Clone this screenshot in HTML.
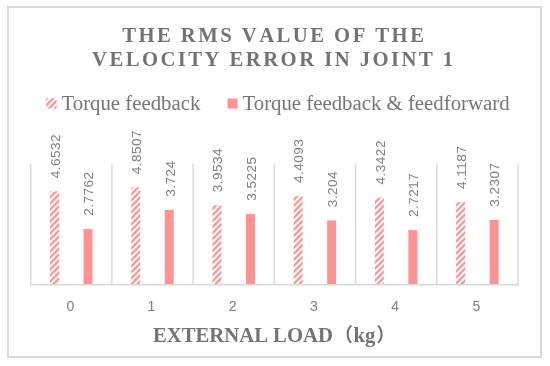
<!DOCTYPE html>
<html><head><meta charset="utf-8">
<style>
html,body{margin:0;padding:0;background:#fff;}
body{width:550px;height:366px;overflow:hidden;position:relative;}
svg{position:absolute;left:0;top:0;}
.t{font-kerning:none;font-family:"Liberation Serif","Noto Serif CJK SC",serif;font-weight:bold;fill:#737373;}
.lg{font-family:"Liberation Serif",serif;fill:#767676;font-size:20.8px;}
.dl{font-family:"Liberation Sans",sans-serif;fill:#808080;font-size:13.6px;letter-spacing:0.45px;}
.ax{font-family:"Liberation Sans",sans-serif;fill:#7f7f7f;font-size:14px;}
</style></head>
<body>
<svg width="550" height="366" viewBox="0 0 550 366">
<defs>
<pattern id="hatch" patternUnits="userSpaceOnUse" width="4.243" height="6" patternTransform="rotate(45)">
<rect x="0" y="0" width="2.1" height="6" fill="#ff8c8c"/>
</pattern>
</defs>
<rect x="0" y="0" width="550" height="366" fill="#fff"/>
<rect x="8" y="7" width="533" height="350" fill="#fff" stroke="#d9d9d9" stroke-width="2"/>

<!-- title -->
<text class="t" x="274.3" y="41.8" text-anchor="middle" font-size="20.7" letter-spacing="2.45">THE RMS VALUE OF THE</text>
<text class="t" x="273.8" y="65.6" text-anchor="middle" font-size="20.7" letter-spacing="2.45">VELOCITY ERROR IN JOINT 1</text>

<!-- legend -->
<rect x="46.2" y="98.2" width="10.4" height="10.4" fill="url(#hatch)"/>
<text class="lg" x="61.5" y="109.6">Torque feedback</text>
<rect x="227.6" y="98.5" width="10" height="10" fill="#ff9393"/>
<text class="lg" x="242.5" y="109.6">Torque feedback &amp; feedforward</text>

<!-- gridlines -->
<g stroke="#d9d9d9" stroke-width="1.4">
<line x1="30.70" y1="163.5" x2="30.70" y2="284.5"/>
<line x1="111.92" y1="163.5" x2="111.92" y2="284.5"/>
<line x1="193.14" y1="163.5" x2="193.14" y2="284.5"/>
<line x1="274.36" y1="163.5" x2="274.36" y2="284.5"/>
<line x1="355.58" y1="163.5" x2="355.58" y2="284.5"/>
<line x1="436.80" y1="163.5" x2="436.80" y2="284.5"/>
<line x1="518.02" y1="163.5" x2="518.02" y2="284.5"/>
</g>

<!-- bars -->
<g id="bars">
<rect x="50.00" y="191.35" width="9.0" height="93.25" fill="url(#hatch)"/>
<rect x="83.50" y="229.04" width="9.0" height="55.56" fill="#ff9393"/>
<rect x="131.22" y="187.38" width="9.0" height="97.22" fill="url(#hatch)"/>
<rect x="164.72" y="210.01" width="9.0" height="74.59" fill="#ff9393"/>
<rect x="212.44" y="205.40" width="9.0" height="79.20" fill="url(#hatch)"/>
<rect x="245.94" y="214.06" width="9.0" height="70.54" fill="#ff9393"/>
<rect x="293.66" y="196.25" width="9.0" height="88.35" fill="url(#hatch)"/>
<rect x="327.16" y="220.45" width="9.0" height="64.15" fill="#ff9393"/>
<rect x="374.88" y="197.59" width="9.0" height="87.01" fill="url(#hatch)"/>
<rect x="408.38" y="230.14" width="9.0" height="54.46" fill="#ff9393"/>
<rect x="456.10" y="202.08" width="9.0" height="82.52" fill="url(#hatch)"/>
<rect x="489.60" y="219.92" width="9.0" height="64.68" fill="#ff9393"/>
</g>
<line x1="30" y1="284.8" x2="518.7" y2="284.8" stroke="#d9d9d9" stroke-width="1.4"/>
<!-- data labels -->
<g id="labels" class="dl">
<text transform="translate(59.80,178.15) rotate(-90)">4.6532</text>
<text transform="translate(93.30,215.84) rotate(-90)">2.7762</text>
<text transform="translate(141.02,174.18) rotate(-90)">4.8507</text>
<text transform="translate(174.52,196.81) rotate(-90)">3.724</text>
<text transform="translate(222.24,192.20) rotate(-90)">3.9534</text>
<text transform="translate(255.74,200.86) rotate(-90)">3.5225</text>
<text transform="translate(303.46,183.05) rotate(-90)">4.4093</text>
<text transform="translate(336.96,207.25) rotate(-90)">3.204</text>
<text transform="translate(384.68,184.39) rotate(-90)">4.3422</text>
<text transform="translate(418.18,216.94) rotate(-90)">2.7217</text>
<text transform="translate(465.90,188.88) rotate(-90)">4.1187</text>
<text transform="translate(499.40,206.72) rotate(-90)">3.2307</text>
</g>

<!-- category labels -->
<g class="ax" text-anchor="middle">
<text x="70.3" y="311">0</text>
<text x="151.5" y="311">1</text>
<text x="232.7" y="311">2</text>
<text x="314.0" y="311">3</text>
<text x="395.2" y="311">4</text>
<text x="476.4" y="311">5</text>
</g>

<!-- axis title -->
<text class="t" x="153" y="341.6" font-size="20.7">EXTERNAL LOAD<tspan dx="1.2" style="font-family:'Noto Sans CJK SC',sans-serif" font-size="19">（</tspan><tspan dx="0.3">kg</tspan><tspan dx="1" style="font-family:'Noto Sans CJK SC',sans-serif" font-size="19">）</tspan></text>
</svg>
</body></html>
